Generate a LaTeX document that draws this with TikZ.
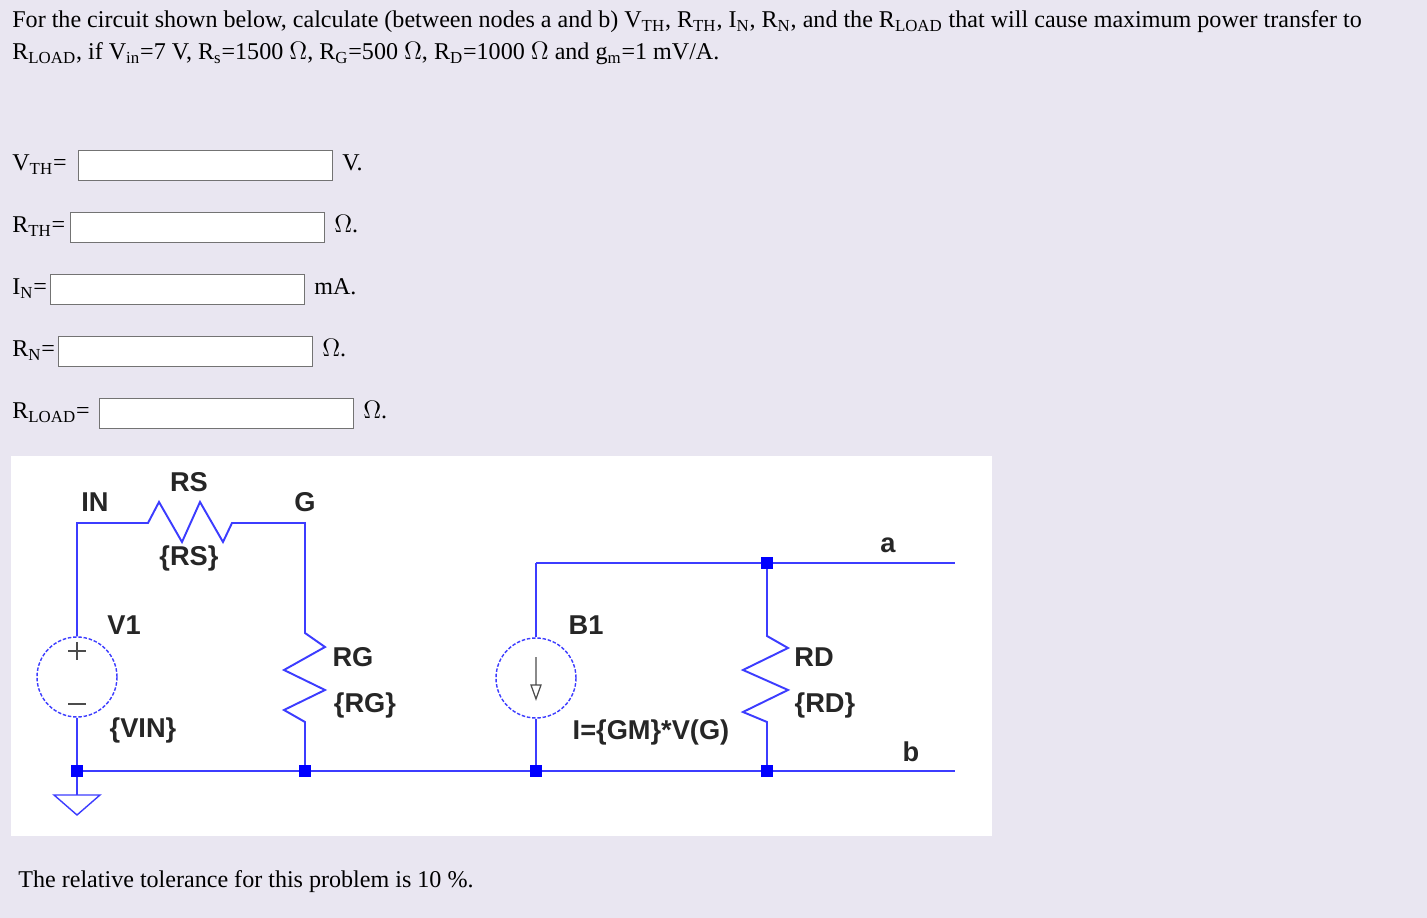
\documentclass[tikz,border=0pt]{standalone}
\usepackage{fontspec}
\setmainfont{Liberation Serif}
\newfontfamily\ckt{Liberation Sans}
\begin{document}
\begin{tikzpicture}[x=0.02cm,y=-0.02cm,
  txt/.style={anchor=base west,inner sep=0,font=\fontsize{13.7}{15}\selectfont},
  box/.style={draw=black!55,fill=white,line width=0.5pt},
  wire/.style={draw={rgb,255:red,60;green,60;blue,255},line width=1.1pt},
  lab/.style={inner sep=0,font=\ckt\fontsize{15.5}{17}\selectfont\bfseries,text=black!85},
  junc/.style={fill={rgb,255:red,0;green,0;blue,255},minimum width=0.24cm,minimum height=0.24cm,inner sep=0,draw=none},
  src/.style={draw={rgb,255:red,60;green,60;blue,255},line width=0.8pt,dash pattern=on 2pt off 1pt}]
\definecolor{bg}{RGB}{233,230,241}
\fill[bg] (0,0) rectangle (1427,918);
\useasboundingbox (0,0) rectangle (1427,918);
\newcommand{\sbx}[1]{\textsubscript{#1}}
\node[txt] (h1) at (12,28) {For the circuit shown below, calculate (between nodes a and b) V\sbx{TH}, R\sbx{TH}, I\sbx{N}, R\sbx{N}, and the R\sbx{LOAD} that will cause maximum power transfer to};
\node[txt] (h2) at (12,60) {R\sbx{LOAD}, if V\sbx{in}=7 V, R\sbx{s}=1500 $\Omega$, R\sbx{G}=500 $\Omega$, R\sbx{D}=1000 $\Omega$ and g\sbx{m}=1 mV/A.};
% answer rows
\node[txt] (l1) at (12,171) {V\sbx{TH}=};
\draw[box] (78,150) rectangle (332,180); \node[txt] (u1) at (342,171) {V.};
\node[txt] (l2) at (12,233) {R\sbx{TH}=};
\draw[box] (70,212) rectangle (324,242); \node[txt] (u2) at (334,233) {$\Omega$.};
\node[txt] (l3) at (12,295) {I\sbx{N}=};
\draw[box] (50,274) rectangle (304,304); \node[txt] (u3) at (314,295) {mA.};
\node[txt] (l4) at (12,357) {R\sbx{N}=};
\draw[box] (58,336) rectangle (312,366); \node[txt] (u4) at (322,357) {$\Omega$.};
\node[txt] (l5) at (12,419) {R\sbx{LOAD}=};
\draw[box] (99,398) rectangle (353,428); \node[txt] (u5) at (363,419) {$\Omega$.};
\node[txt] (tol) at (18,887) {The relative tolerance for this problem is 10 \%.};
% circuit panel
\fill[white] (11,456) rectangle (992,836);
\coordinate (in) at (77,523); \coordinate (g) at (305,523);
\coordinate (ta) at (536,563); \coordinate (a) at (955,563); \coordinate (b) at (955,771);
\coordinate (p1) at (77,771); \coordinate (p2) at (305,771);
\coordinate (p3) at (536,771); \coordinate (p4) at (767,771); \coordinate (p5) at (767,563);
\draw[wire] (p1) -- (b);
\draw[wire] (ta) -- (a);
% V1
\node[src,circle,minimum size=1.6cm,inner sep=0] (v1) at (77,677) {};
\draw[wire] (v1.north) -- (in) -- (148,523) -- (159,502) -- (182,542) -- (200,502) -- (223,542) -- (232,523) -- (g) -- (305,633) -- (325,647) -- (284,670) -- (325,690) -- (284,710) -- (305,722) -- (p2);
\draw[wire] (v1.south) -- (p1) -- (77,795);
\draw[wire,line width=0.8pt] (54,795) -- (100,795) -- (77,815) -- cycle;
\draw[line width=0.7pt,black!70] (68,651) -- (86,651) (77,642) -- (77,660) (68,704) -- (86,704);
% B1
\node[src,circle,minimum size=1.6cm,inner sep=0] (b1) at (536,678) {};
\draw[wire] (b1.north) -- (ta);
\draw[wire] (b1.south) -- (p3);
\draw[line width=0.7pt,black!70] (536,657) -- (536,685) (531,685) -- (541,685) -- (536,699) -- cycle;
% RD
\draw[wire] (p5) -- (767,636) -- (788,648) -- (743,670) -- (788,690) -- (743,712) -- (767,722) -- (p4);
% junctions
\node[junc] (j1) at (p1) {}; \node[junc] (j2) at (p2) {};
\node[junc] (j3) at (p3) {}; \node[junc] (j4) at (p4) {};
\node[junc] (j5) at (p5) {};
% labels
\node[lab] (tIN) at (95,502) {IN};
\node[lab] (tRS) at (189,482) {RS};
\node[lab] (tRSv) at (189,558) {\{RS\}};
\node[lab] (tG) at (305,502) {G};
\node[lab] (tV1) at (124,625) {V1};
\node[lab] (tVIN) at (143,730) {\{VIN\}};
\node[lab] (tRG) at (353,657) {RG};
\node[lab] (tRGv) at (365,705) {\{RG\}};
\node[lab] (tB1) at (586,625) {B1};
\node[lab] (tI) at (651,732) {I=\{GM\}*V(G)};
\node[lab] (tRD) at (814,657) {RD};
\node[lab] (tRDv) at (825,705) {\{RD\}};
\node[lab] (ta) at (888,545) {a};
\node[lab] (tb) at (911,752) {b};
\end{tikzpicture}
\end{document}
